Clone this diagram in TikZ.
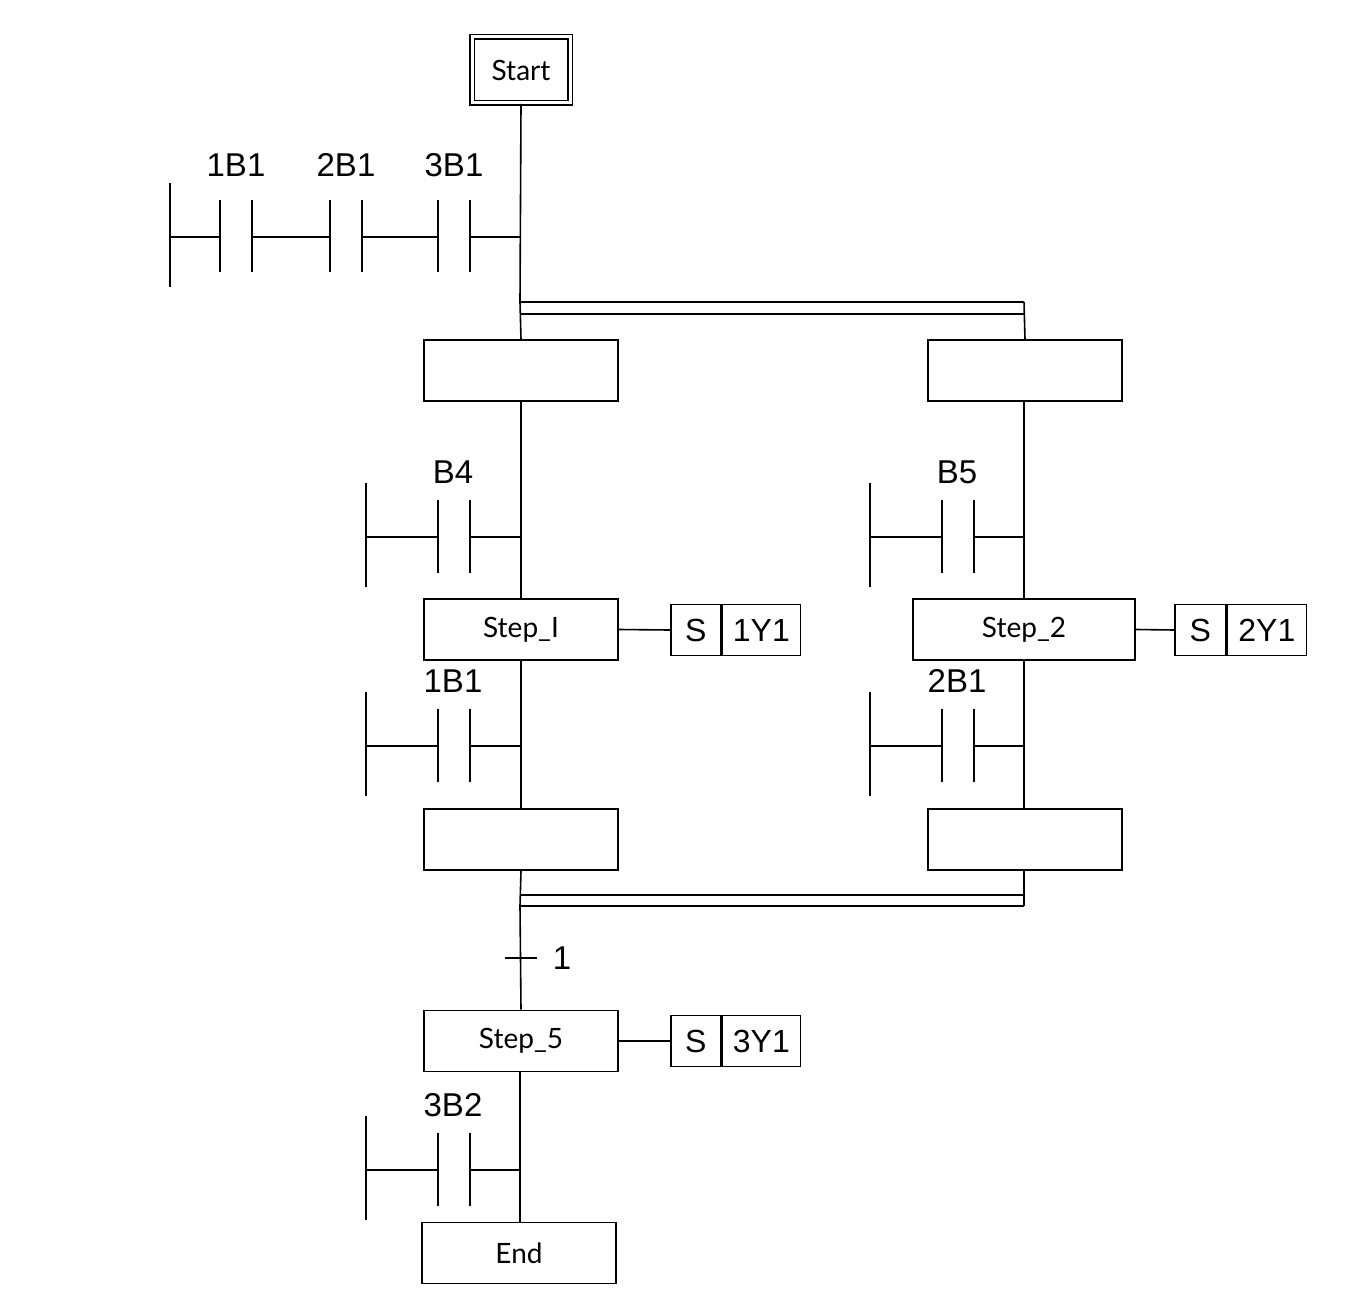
\documentclass[tikz,border=0pt]{standalone}
\usepackage{fontspec}
\setmainfont{Liberation Sans}
\newfontfamily\gill{Lato}
\begin{document}
\begin{tikzpicture}[x=1pt,y=-1pt,line width=1.6pt,
  box/.style={draw,minimum width=194pt,minimum height=61pt,inner sep=0pt,font=\gill\fontsize{28}{30}\selectfont},
  act/.style={draw,minimum height=51pt,inner sep=0pt,font=\fontsize{32}{34}\selectfont},
  lab/.style={font=\fontsize{33}{35}\selectfont,inner sep=0pt}]
\useasboundingbox (0,0) rectangle (1347,1308);
% contact macro
\newcommand{\contact}[4]{% rail x, plate1 x, y, label
  \draw (#1,#3-54) -- (#1,#3+50);
  \draw (#1,#3) -- (#2,#3);
  \draw (#2,#3-37) -- (#2,#3+36);
  \draw (#2+32,#3-37) -- (#2+32,#3+36);
  \node[lab] at (#2+15,#3-65) {#4};}
% Start
\node[draw,double,double distance=3pt,minimum width=98pt,minimum height=66pt,inner sep=0pt,font=\gill\fontsize{28}{30}\selectfont] (start) at (521,70) {Start};
\coordinate (d1) at (520,302);
\draw (start.south) -- (d1);
% top contacts
\draw (170,183) -- (170,287);
\draw (170,237) -- (220,237);
\foreach \x/\l in {220/1B1,330/2B1,438/3B1}{
  \draw (\x,200) -- (\x,272); \draw (\x+32,200) -- (\x+32,272);
  \node[lab] at (\x+16,165) {\l};}
\draw (252,237) -- (330,237); \draw (362,237) -- (438,237); \draw (470,237) -- (520,237);
% divergence
\draw (520,302) -- (1024,302); \draw (520,314) -- (1024,314);
\node[box] (a1) at (521,370.5) {};
\node[box] (a2) at (1025,370.5) {};
\draw (520,302) -- (a1.north); \draw (1024,302) -- (a2.north);
% steps
\node[box] (s1) at (521,629.5) {Step\_I};
\node[box,minimum width=222pt] (s2) at (1024,629.5) {Step\_2};
\draw (a1.south) -- (s1.north);
\draw (1024,401) -- (1024,599);
\contact{366}{438}{537}{B4}
\draw (470,537) -- (520,537);
\contact{870}{942}{537}{B5}
\draw (974,537) -- (1024,537);
% actions
\node[act,minimum width=50pt,anchor=west] (sa1) at (670,630) {S};
\node[act,minimum width=78pt,anchor=west] (ya1) at (sa1.east) {1Y1};
\draw (s1.east) -- (sa1.west);
\node[act,minimum width=51pt,anchor=west] (sa2) at (1174,630) {S};
\node[act,minimum width=79pt,anchor=west] (ya2) at (sa2.east) {2Y1};
\draw (s2.east) -- (sa2.west);
% lower boxes
\node[box] (b1) at (521,839.5) {};
\node[box] (b2) at (1025,839.5) {};
\draw (s1.south) -- (b1.north);
\draw (1024,660) -- (1024,809);
\contact{366}{438}{746}{1B1}
\draw (470,746) -- (520,746);
\contact{870}{942}{746}{2B1}
\draw (974,746) -- (1024,746);
% convergence
\draw (520,895) -- (1024,895); \draw (520,906) -- (1024,906);
\draw (b1.south) -- (520,906); \draw (1024,870) -- (1024,906);
\node[box] (s5) at (521,1041) {Step\_5};
\draw (520,906) -- (s5.north);
\draw (505,958) -- (537,958);
\node[lab] at (562,958) {1};
\node[act,minimum width=50pt,anchor=west] (sa5) at (670,1041) {S};
\node[act,minimum width=78pt,anchor=west] (ya5) at (sa5.east) {3Y1};
\draw (s5.east) -- (sa5.west);
\node[box] (end) at (519,1253) {End};
\draw (520,1072) -- (520,1222);
\contact{366}{438}{1170}{3B2}
\draw (470,1170) -- (520,1170);
\end{tikzpicture}
\end{document}
